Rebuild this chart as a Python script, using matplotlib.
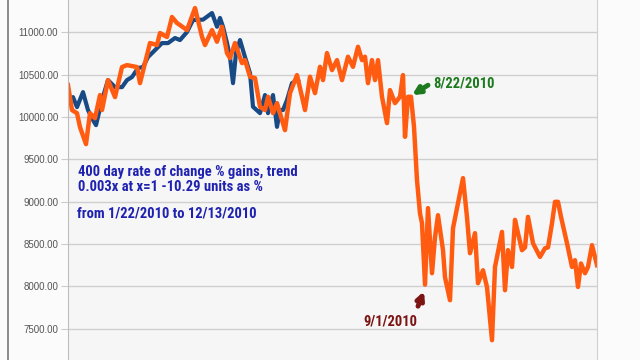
import numpy as np
import matplotlib.pyplot as plt
from matplotlib.lines import Line2D

# trading-day offset and index level
blue_day = [0, 5, 9, 15, 20, 25, 28, 34, 40, 47, 54, 59, 64, 70, 75, 80, 87, 94,
            100, 107, 112, 119, 125, 135, 144, 149, 152, 155, 159, 162, 165, 168,
            172, 177, 182, 185, 192, 197, 200, 205, 209, 212, 215, 219, 224, 230]
blue_val = [10199, 10235, 10117, 10294, 10082, 9963, 9904, 10200, 10436, 10353,
            10353, 10436, 10472, 10578, 10590, 10708, 10790, 10873, 10873, 10933,
            10909, 11004, 11145, 11150, 11228, 11066, 11170, 11066, 10874, 10708,
            10400, 10755, 10909, 10708, 10518, 10121, 10046, 10259, 10046, 10259,
            9884, 10082, 10082, 10200, 10400, 10436]

orange_day = [0, 4, 9, 12, 18, 22, 27, 32, 34, 40, 47, 54, 59, 69, 72, 77, 82, 89,
              92, 99, 104, 109, 112, 119, 127, 134, 137, 144, 149, 154, 159, 162,
              167, 174, 177, 182, 187, 192, 197, 200, 205, 209, 214, 217, 222, 229,
              234, 237, 242, 247, 252, 255, 259, 264, 269, 274, 280, 285, 290, 294,
              297, 300, 304, 307, 310, 314, 319, 322, 327, 332, 335, 337, 340, 343,
              346, 349, 352, 354, 357, 360, 364, 367, 370, 375, 377, 382, 385, 390,
              395, 399, 402, 407, 410, 415, 419, 424, 427, 434, 437, 440, 444, 447,
              450, 454, 457, 460, 465, 472, 477, 480, 484, 487, 490, 493, 499, 504,
              507, 510, 513, 517, 520, 524, 529]
orange_val = [10377, 10082, 10045, 9880, 9680, 10045, 9986, 10259, 10082, 10436,
              10235, 10590, 10613, 10590, 10400, 10637, 10874, 10850, 10992, 10945,
              11181, 11110, 11086, 11027, 11287, 10948, 10850, 11027, 10889, 11066,
              10755, 10696, 10874, 10637, 10672, 10475, 10460, 10121, 10082, 10239,
              10046, 10164, 9963, 9845, 10282, 10495, 10239, 10082, 10476, 10282,
              10593, 10436, 10755, 10554, 10672, 10436, 10712, 10593, 10830, 10672,
              10712, 10400, 10672, 10436, 10672, 10239, 9928, 10318, 10164, 10239,
              10495, 9766, 10239, 10239, 9884, 9254, 8860, 8746, 8020, 8924, 8155,
              8580, 8840, 8427, 8108, 7836, 8686, 8982, 9278, 8816, 8391, 8628,
              8037, 8190, 7990, 7364, 8229, 8643, 7954, 8427, 8229, 8785, 8628,
              8427, 8460, 8821, 8509, 8348, 8450, 8460, 8746, 8998, 8998, 8821,
              8509, 8229, 8309, 7993, 8270, 8155, 8229, 8486, 8250]

yticks = [7500, 8000, 8500, 9000, 9500, 10000, 10500, 11000]

note_lines = ['400 day rate of change % gains, trend',
              '0.003x at x=1 -10.29 units as %',
              'from 1/22/2010 to 12/13/2010']

narrow = ['Roboto Condensed', 'Liberation Sans Narrow', 'Roboto']

fig = plt.figure(figsize=(6.4, 3.6), dpi=100, facecolor='#fbfbfb')
ax = fig.add_axes([68/640, 0, 529/640, 1])
ax.set_facecolor('#f6f6f6')

ax.plot(blue_day, blue_val, color='#184a86', lw=3.0, solid_joinstyle='round')
ax.plot(orange_day, orange_val, color='#ff5c12', lw=3.2, solid_joinstyle='round')

ax.set_xlim(0, 529)
ax.set_ylim(7130, 11382)
ax.set_yticks(yticks)
ax.set_yticklabels(['%.2f' % v for v in yticks], family='Liberation Sans',
                   fontsize=7, color='#555555')
ax.set_xticks([])
ax.tick_params(axis='y', length=5, color='#cccccc', pad=2)
ax.grid(axis='y', color='#cfcfcf', lw=1)
ax.set_axisbelow(True)
for s in ['top', 'bottom']:
    ax.spines[s].set_visible(False)
ax.spines['left'].set_color('#bdbdbd')
ax.spines['right'].set_color('#cfcfcf')

# outer frame line on the left
fig.add_artist(Line2D([8/640, 8/640], [0, 1], color='#777777', lw=1.2))

txt = dict(family=narrow, weight='bold', color='#1f22b0',
           fontsize=10.5, transform=ax.transAxes, va='center')
ax.text(10/529, 1 - 172/360, note_lines[0], **txt)
ax.text(10/529, 1 - 187/360, note_lines[1], **txt)
ax.text(9/529, 1 - 214/360, note_lines[2], **txt)

ax.text(365, 10390, '8/22/2010', fontsize=10.5, weight='bold', family=narrow,
        color='#1e7a1e', va='center')
ax.annotate('', xy=(344, 10258), xytext=(360, 10376),
            arrowprops=dict(arrowstyle='-|>', color='#1e7a1e', lw=3.5,
                            mutation_scale=11, shrinkA=0, shrinkB=0))
ax.text(349, 7590, '9/1/2010', fontsize=10.5, weight='bold', family=narrow,
        color='#7d1414', ha='right', va='center')
ax.annotate('', xy=(356, 7942), xytext=(350, 7765),
            arrowprops=dict(arrowstyle='-|>', color='#7d1414', lw=3.5,
                            mutation_scale=11, shrinkA=0, shrinkB=0))

fig.savefig('out.png', dpi=100, facecolor=fig.get_facecolor())
